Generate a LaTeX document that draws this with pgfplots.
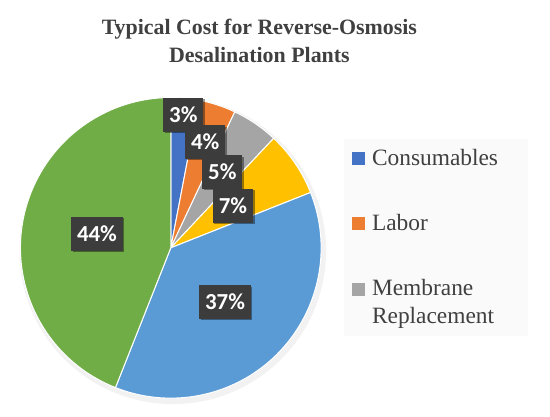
\documentclass[border=0pt]{standalone}
\usepackage{pgfplots}
\pgfplotsset{compat=1.18}
\usepackage{pgfplotstable}
\usetikzlibrary{shadows}
\usepackage{fontspec}
\setmainfont{Liberation Serif}
\newfontfamily\labelfont{Carlito}

\definecolor{textgray}{HTML}{404040}
\definecolor{boxgray}{HTML}{3C3C3C}
\definecolor{c0}{HTML}{4472C4}
\definecolor{c1}{HTML}{ED7D31}
\definecolor{c2}{HTML}{A5A5A5}
\definecolor{c3}{HTML}{FFC000}
\definecolor{c4}{HTML}{5B9BD5}
\definecolor{c5}{HTML}{70AD47}

% share of total cost (%), label radius as fraction of pie radius
\pgfplotstableread{
share lr
3  0.89
4  0.74
5  0.61
7  0.50
37 0.51
44 0.50
}\costdata

\tikzset{
  pielabel/.style={fill=boxgray, text=white,
    font=\labelfont\bfseries\fontsize{23bp}{26bp}\selectfont,
    inner xsep=6bp, inner ysep=0pt, minimum height=34bp,
    drop shadow={shadow xshift=1.5bp, shadow yshift=-1.5bp, opacity=0.4, fill=black}},
  legtext/.style={anchor=base west, inner sep=0pt, text=textgray,
    font=\fontsize{23.5bp}{27bp}\selectfont},
}

\begin{document}
\begin{tikzpicture}
\begin{axis}[
    x=1bp, y=1bp,
    xmin=0, xmax=550, ymin=0, ymax=418,
    hide axis, clip=false,
]
\path (axis cs:0,0) rectangle (axis cs:550,418);

% title
\node[anchor=base, text=textgray, font=\bfseries\fontsize{22bp}{26bp}\selectfont]
  at (axis cs:258,383) {Typical Cost for Reverse-Osmosis};
\node[anchor=base, text=textgray, font=\bfseries\fontsize{22bp}{26bp}\selectfont]
  at (axis cs:258,355) {Desalination Plants};

% faint shadow behind the pie
\fill[black, opacity=0.05] (axis cs:171,166) circle[radius=154bp];

\pgfplotstablegetrowsof{\costdata}
\pgfmathtruncatemacro\lastrow{\pgfplotsretval-1}

% slices, clockwise from 12 o'clock
\def\acc{0}
\pgfplotsforeachungrouped \i in {0,...,\lastrow}{%
  \pgfplotstablegetelem{\i}{share}\of\costdata
  \let\share\pgfplotsretval
  \pgfmathsetmacro\angA{90-3.6*\acc}
  \pgfmathsetmacro\angB{90-3.6*(\acc+\share)}
  \edef\temp{%
    \noexpand\fill[c\i, draw=white, line width=1bp, line join=round]
      (axis cs:169,169) -- ++(\angA:151bp)
      arc[start angle=\angA, end angle=\angB, radius=151bp] -- cycle;
  }\temp
  \pgfmathsetmacro\acc{\acc+\share}
}

% data labels
\def\acc{0}
\pgfplotsforeachungrouped \i in {0,...,\lastrow}{%
  \pgfplotstablegetelem{\i}{share}\of\costdata
  \let\share\pgfplotsretval
  \pgfplotstablegetelem{\i}{lr}\of\costdata
  \let\lr\pgfplotsretval
  \pgfmathsetmacro\angM{90-3.6*(\acc+\share/2)}
  \pgfmathsetmacro\lx{169+151*\lr*cos(\angM)}
  \pgfmathsetmacro\ly{169+151*\lr*sin(\angM)}
  \edef\temp{%
    \noexpand\node[pielabel] at (axis cs:\lx,\ly) {\share\%};
  }\temp
  \pgfmathsetmacro\acc{\acc+\share}
}

% legend
\fill[black!2] (axis cs:343,80) rectangle (axis cs:528,278);
\fill[c0] (axis cs:351,252.5) rectangle (axis cs:364,265.5);
\fill[c1] (axis cs:351,187) rectangle (axis cs:364,200);
\fill[c2] (axis cs:351,121) rectangle (axis cs:364,134);
\node[legtext] at (axis cs:371,252) {Consumables};
\node[legtext] at (axis cs:371,186) {Labor};
\node[legtext] at (axis cs:371,121) {Membrane};
\node[legtext] at (axis cs:371,93) {Replacement};
\end{axis}
\end{tikzpicture}
\end{document}
